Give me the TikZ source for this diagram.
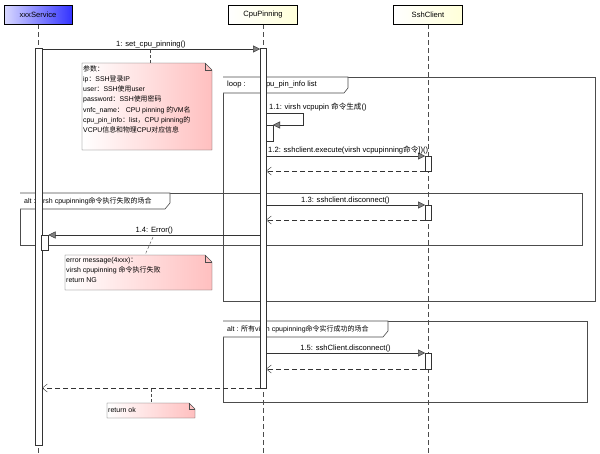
\documentclass[tikz,border=0pt]{standalone}
\usepackage{fontspec}
\setmainfont{Liberation Sans}
\newfontfamily\cjk{Noto Sans CJK SC}
\usetikzlibrary{arrows.meta,shapes.misc}
\begin{document}
\begin{tikzpicture}[x=1pt,y=-1pt,font=\fontsize{7.6}{9}\selectfont,
 lbl/.style={inner sep=1pt,anchor=south},
 msg/.style={draw=black!80,-{Triangle[fill=gray,length=7pt,width=7pt]}},
 ret/.style={draw=black!80,dashed,dash pattern=on 5pt off 3pt,-{Straight Barb[length=5pt,width=8pt]}},
 life/.style={draw=black!70,dash pattern=on 5pt off 3pt},
 act/.style={draw=black!80,fill=white},
 frm/.style={draw=black!70,line width=0.6pt},
 notelink/.style={draw=black!70,dash pattern=on 3pt off 2pt}]
\useasboundingbox (0,0) rectangle (600,453);
% lifelines
\draw[life] (38,24) -- (38,453);
\draw[life] (263,24) -- (263,453);
\draw[life] (428,24) -- (428,453);
% heads
\node[draw,line width=0.8pt,left color=blue!15,right color=blue!80,minimum width=68pt,minimum height=19pt,inner sep=0] (svc) at (38,15) {xxxService};
\node[draw,line width=0.8pt,left color=white,right color=yellow!15,minimum width=69pt,minimum height=19pt,inner sep=0] (cpu) at (263,15) {CpuPinning};
\node[draw,line width=0.8pt,left color=white,right color=yellow!15,minimum width=69pt,minimum height=19pt,inner sep=0] (ssh) at (428,15) {SshClient};
% frames
\draw[frm] (223,77) rectangle (595,301);
\draw[frm,fill=white] (223,77) -- (348,77) -- (348,88) -- (344,93) -- (223,93);
\node[anchor=west,inner sep=0] at (227,85) {loop :};
\node[anchor=west,inner sep=0] at (262,85) {cpu\_pin\_info list};
\draw[frm] (20,193) rectangle (582,245);
\draw[frm,fill=white] (20,193) -- (170,193) -- (170,203) -- (165,209) -- (20,209);
\node[anchor=west,inner sep=0,font=\fontsize{7}{8}\selectfont] at (24,201) {alt : virsh cpupinning{\cjk 命令执行失败的场合}};
\draw[frm] (223,321) rectangle (587,402);
\draw[frm,fill=white] (223,321) -- (388,321) -- (388,331) -- (383,337) -- (223,337);
\node[anchor=west,inner sep=0,font=\fontsize{7}{8}\selectfont] at (227,329) {alt : {\cjk 所有}virsh cpupinning{\cjk 命令实行成功的场合}};
% activations
\node[act,minimum width=7pt,minimum height=397pt,inner sep=0,anchor=north] (asvc) at (38.5,48) {};
\node[act,minimum width=6pt,minimum height=340pt,inner sep=0,anchor=north] (acpu) at (263,48) {};
\node[act,minimum width=7pt,minimum height=16pt,inner sep=0,anchor=north] (aself) at (269.5,125) {};
\node[act,minimum width=6pt,minimum height=15pt,inner sep=0,anchor=north] (as1) at (428,156) {};
\node[act,minimum width=6pt,minimum height=15pt,inner sep=0,anchor=north] (as2) at (428,205) {};
\node[act,minimum width=6pt,minimum height=16pt,inner sep=0,anchor=north] (as3) at (428,353) {};
\node[act,minimum width=7pt,minimum height=15pt,inner sep=0,anchor=north] (aerr) at (45,235) {};
% coordinates
\coordinate (m1a) at (42,49); \coordinate (m1b) at (260,49);
\coordinate (s1) at (266,113); \coordinate (s2) at (303,113); \coordinate (s3) at (303,125); \coordinate (s4) at (273,125);
\coordinate (m2a) at (266,156); \coordinate (m2b) at (425,156);
\coordinate (r2a) at (425,171); \coordinate (r2b) at (266,171);
\coordinate (m3a) at (266,205); \coordinate (m3b) at (425,205);
\coordinate (r3a) at (425,220); \coordinate (r3b) at (266,220);
\coordinate (m4a) at (260,235); \coordinate (m4b) at (48.5,235);
\coordinate (m5a) at (266,353); \coordinate (m5b) at (425,353);
\coordinate (r5a) at (425,369); \coordinate (r5b) at (266,369);
\coordinate (r6a) at (260,388); \coordinate (r6b) at (42,388);
% messages
\draw[msg] (m1a) -- node[lbl] {1: set\_cpu\_pinning()} (m1b);
\draw[msg] (s1) -- (s2) -- (s3) -- (s4);
\node[anchor=south west,inner sep=1pt] at (268,112) {1.1: virsh vcpupin {\cjk 命令生成}()};
\draw[msg] (m2a) -- (m2b);
\node[anchor=south west,inner sep=1pt] at (267,155) {1.2: sshclient.execute(virsh vcpupinning{\cjk 命令}])()};
\draw[ret] (r2a) -- (r2b);
\draw[msg] (m3a) -- node[lbl] {1.3: sshclient.disconnect()} (m3b);
\draw[ret] (r3a) -- (r3b);
\draw[msg] (m4a) -- node[lbl] {1.4: Error()} (m4b);
\draw[msg] (m5a) -- node[lbl] {1.5: sshClient.disconnect()} (m5b);
\draw[ret] (r5a) -- (r5b);
\draw[ret] (r6a) -- (r6b);
% notes
\draw[draw=black!70,left color=white,right color=red!25] (82,63) -- (205,63) -- (212,70) -- (212,150) -- (82,150) -- cycle;
\draw[draw=black!70] (205,63) -- (205,70) -- (212,70);
\node[anchor=north west,align=left,inner sep=1pt,font=\fontsize{6.9}{10.3}\selectfont] (n1) at (82,64) {{\cjk 参数：}\\ip{\cjk ：}SSH{\cjk 登录}IP\\user{\cjk ：}SSH{\cjk 使用}user\\password{\cjk ：}SSH{\cjk 使用密码}\\vnfc\_name{\cjk ：} CPU pinning {\cjk 的}VM{\cjk 名}\\cpu\_pin\_info{\cjk ：}list{\cjk ，}CPU pinning{\cjk 的}\\VCPU{\cjk 信息和物理}CPU{\cjk 对应信息}};
\coordinate (c1) at (150,50); \coordinate (c1b) at (150,63);
\draw[notelink] (c1) -- (c1b);
\draw[draw=black!70,left color=white,right color=red!25] (65,255) -- (205,255) -- (212,262) -- (212,290) -- (65,290) -- cycle;
\draw[draw=black!70] (205,255) -- (205,262) -- (212,262);
\node[anchor=north west,align=left,inner sep=1pt,font=\fontsize{7}{10.3}\selectfont] (n2) at (65,256) {error message(4xxx){\cjk ：}\\ virsh cpupinning {\cjk 命令执行失败}\\return NG};
\coordinate (c2) at (153,237); \coordinate (c2b) at (145,255);
\draw[notelink] (c2) -- (c2b);
\draw[draw=black!70,left color=white,right color=red!25] (107,403) -- (189,403) -- (195,409) -- (195,418) -- (107,418) -- cycle;
\draw[draw=black!70] (189,403) -- (189,409) -- (195,409);
\node[anchor=west,inner sep=1pt,font=\fontsize{7}{8}\selectfont] (n3) at (107,410) {return ok};
\coordinate (c3) at (151,389); \coordinate (c3b) at (151,403);
\draw[notelink] (c3) -- (c3b);
\end{tikzpicture}
\end{document}
